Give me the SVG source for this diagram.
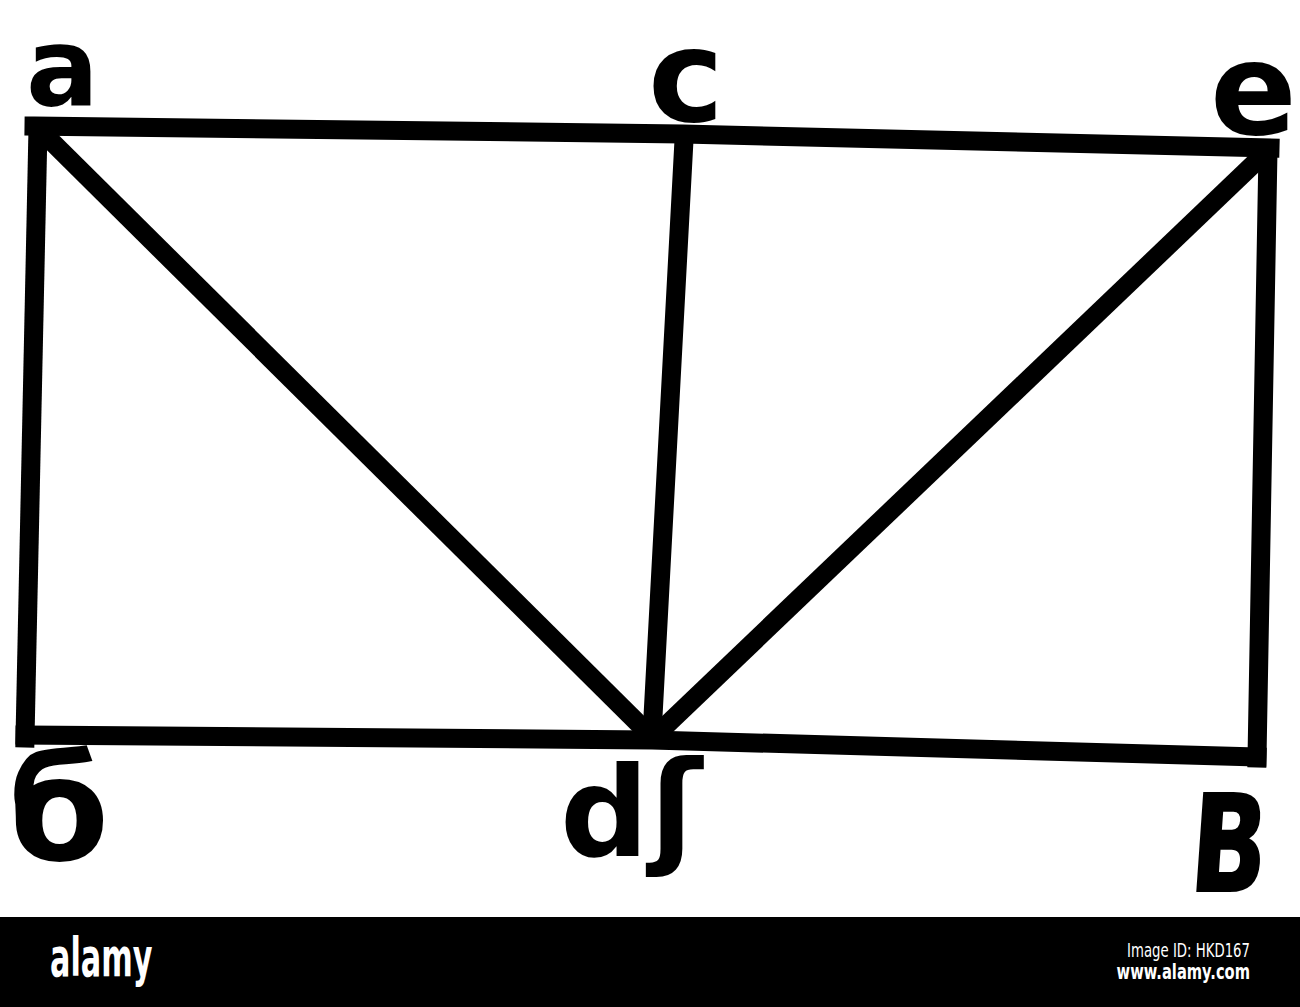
<svg xmlns="http://www.w3.org/2000/svg" width="1300" height="1007" viewBox="0 0 1300 1007">
<style>
.ln{stroke:#000;stroke-width:19;fill:none;stroke-linecap:square;stroke-linejoin:miter}
.lb{font-family:"DejaVu Sans",sans-serif;font-weight:bold;fill:#000}
.wm{font-family:"DejaVu Sans","Liberation Sans",sans-serif;fill:#fff}
</style>
<rect width="1300" height="1007" fill="#fff"/>
<g id="connectors">
<polyline class="ln" points="34,126 683,134 1270,148"/>
<line class="ln" x1="38" y1="128" x2="25" y2="738"/>
<line class="ln" x1="1268" y1="150" x2="1257" y2="758"/>
<polyline class="ln" points="25,735 652,740 1257,757"/>
<line class="ln" x1="42" y1="132" x2="650" y2="735"/>
<line class="ln" x1="684" y1="140" x2="652" y2="735"/>
<line class="ln" x1="1262" y1="156" x2="656" y2="735"/>
</g>
<g id="node-a"><text class="lb" x="26" y="105" font-size="108">a</text></g>
<g id="node-c"><text class="lb" x="648" y="121" font-size="128">c</text></g>
<g id="node-e"><text class="lb" x="1210" y="134" font-size="128">e</text></g>
<g id="node-b"><text class="lb" x="8" y="860" font-size="145">б</text></g>
<g id="node-d"><text class="lb" x="560" y="856" font-size="124">d</text><text class="lb" x="650" y="850" font-size="125">ʃ</text></g>
<g id="node-v"><text class="lb" transform="translate(1186,892) scale(1,1.5) skewX(-6)" font-size="122">в</text></g>
<g id="footer">
<rect x="0" y="917" width="1300" height="90" fill="#000"/>
<text class="wm" transform="translate(50,976) scale(0.56,1)" font-size="54" font-weight="bold">alamy</text>
<text class="wm" transform="translate(1250,957) scale(0.7,1)" text-anchor="end" font-size="19">Image ID: HKD167</text>
<text class="wm" transform="translate(1250,979) scale(0.7,1)" text-anchor="end" font-size="21" font-weight="bold">www.alamy.com</text>
</g>
</svg>
